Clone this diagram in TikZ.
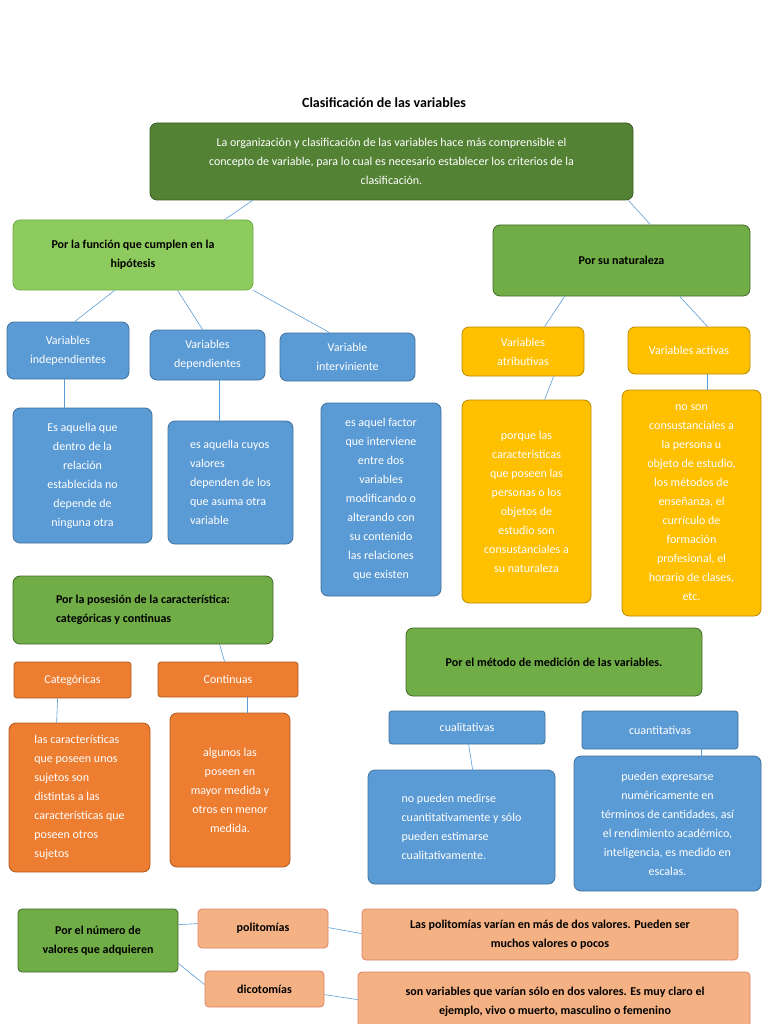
\documentclass[tikz,border=0pt]{standalone}
\usepackage{fontspec}
\setmainfont{Carlito}
\usetikzlibrary{fit}
\definecolor{dg}{HTML}{548235}
\definecolor{mg}{HTML}{70AD47}
\definecolor{lg}{HTML}{8DCB5E}
\definecolor{bl}{HTML}{5B9BD5}
\definecolor{bld}{HTML}{41719C}
\definecolor{ye}{HTML}{FFC000}
\definecolor{yed}{HTML}{BC8C00}
\definecolor{or}{HTML}{ED7D31}
\definecolor{ord}{HTML}{AE5A21}
\definecolor{sa}{HTML}{F4B183}
\definecolor{sad}{HTML}{E0826A}
\begin{document}
\begin{tikzpicture}[x=1pt,y=-1pt,
  every node/.style={font=\fontsize{12}{19}\selectfont},
  bf/.style={font=\fontsize{12}{19}\selectfont\bfseries},
  box/.style={draw,rounded corners=7pt,inner sep=0pt,line width=0.8pt},
  dgb/.style={box,fill=dg,draw=dg!70!black},
  mgb/.style={box,fill=mg,draw=dg!80!black},
  lgb/.style={box,fill=lg,draw=mg},
  blb/.style={box,fill=bl,draw=bld},
  yeb/.style={box,fill=ye,draw=yed},
  orb/.style={box,fill=or,draw=ord},
  sab/.style={box,fill=sa,draw=sad},
  wt/.style={text=white,align=center},
  ln/.style={draw=bl,line width=0.6pt}]
\useasboundingbox (0,0) rectangle (768,1024);
\node[font=\fontsize{14}{16}\selectfont\bfseries] (title) at (384,103) {Clasificación de las variables};
\node[dgb,fit={(150,123)(633,200)}] (top) {};
\node[wt] at (top.center) {La organización y clasificación de las variables hace más comprensible el\\concepto de variable, para lo cual es necesario establecer los criterios de la\\clasificación.};
\node[lgb,fit={(13,220)(253,290)}] (f1) {};
\node[bf,align=center] at (f1.center) {Por la función que cumplen en la\\hipótesis};
\node[mgb,fit={(493,225)(750,296)}] (nat) {};
\node[bf] at (nat.center) {Por su naturaleza};
\node[blb,fit={(7,322)(129,379)}] (vi) {};
\node[wt] at (vi.center) {Variables\\independientes};
\node[blb,fit={(150,330)(265,380)}] (vd) {};
\node[wt] at (vd.center) {Variables\\dependientes};
\node[blb,fit={(280,333)(415,381)}] (vint) {};
\node[wt] at (vint.center) {Variable\\interviniente};
\node[blb,fit={(13,408)(152,543)}] (d1) {};
\node[wt] at (d1.center) {Es aquella que\\dentro de la\\relación\\establecida no\\depende de\\ninguna otra};
\node[blb,fit={(168,421)(293,544)}] (d2) {};
\node[text=white,align=left] at (d2.center) {es aquella cuyos\\valores\\dependen de los\\que asuma otra\\variable};
\node[blb,fit={(321,403)(441,596)}] (d3) {};
\node[wt] at (d3.center) {es aquel factor\\que interviene\\entre dos\\variables\\modificando o\\alterando con\\su contenido\\las relaciones\\que existen};
\node[yeb,fit={(462,327)(584,376)}] (va) {};
\node[wt] at (va.center) {Variables\\atributivas};
\node[yeb,fit={(628,327)(750,374)}] (vac) {};
\node[wt] at (vac.center) {Variables activas};
\node[yeb,fit={(462,400)(591,603)}] (d4) {};
\node[wt] at (d4.center) {porque las\\caracteristicas\\que poseen las\\personas o los\\objetos de\\estudio son\\consustanciales a\\su naturaleza};
\node[yeb,fit={(622,390)(761,616)}] (d5) {};
\node[wt] at (d5.center) {no son\\consustanciales a\\la persona u\\objeto de estudio,\\los métodos de\\enseñanza, el\\currículo de\\formación\\profesional, el\\horario de clases,\\etc.};
\node[mgb,fit={(13,576)(273,644)}] (pos) {};
\node[bf,align=left] at (pos.center) {Por la posesión de la característica:\\categóricas y continuas};
\node[orb,rounded corners=3pt,fit={(14,662)(131,698)}] (cat) {};
\node[text=white] at (cat.center) {Categóricas};
\node[orb,rounded corners=3pt,fit={(158,662)(298,697)}] (con) {};
\node[text=white] at (con.center) {Continuas};
\node[orb,fit={(9,723)(150,872)}] (d6) {};
\node[text=white,align=left] at (d6.center) {las características\\que poseen unos\\sujetos son\\distintas a las\\características que\\poseen otros\\sujetos};
\node[orb,fit={(170,713)(290,867)}] (d7) {};
\node[wt] at (d7.center) {algunos las\\poseen en\\mayor medida y\\otros en menor\\medida.};
\node[mgb,fit={(406,628)(702,696)}] (met) {};
\node[bf] at (met.center) {Por el método de medición de las variables.};
\node[blb,rounded corners=3pt,fit={(389,711)(545,744)}] (cual) {};
\node[text=white] at (cual.center) {cualitativas};
\node[blb,rounded corners=3pt,fit={(582,711)(738,749)}] (cuan) {};
\node[text=white] at (cuan.center) {cuantitativas};
\node[blb,fit={(368,770)(555,884)}] (d8) {};
\node[text=white,align=left] at (d8.center) {no pueden medirse\\cuantitativamente y sólo\\pueden estimarse\\cualitativamente.};
\node[blb,fit={(574,756)(761,891)}] (d9) {};
\node[wt] at (d9.center) {pueden expresarse\\numéricamente en\\términos de cantidades, así\\el rendimiento académico,\\inteligencia, es medido en\\escalas.};
\node[mgb,rounded corners=4pt,fit={(18,909)(178,972)}] (num) {};
\node[bf,align=center] at (num.center) {Por el número de\\valores que adquieren};
\node[sab,rounded corners=4pt,fit={(198,909)(328,948)}] (pol) {};
\node[bf] at (pol.center) {politomías};
\node[sab,rounded corners=4pt,fit={(205,971)(324,1007)}] (dic) {};
\node[bf] at (dic.center) {dicotomías};
\node[sab,rounded corners=4pt,fit={(362,909)(738,960)}] (d10) {};
\node[bf,align=center] at (d10.center) {Las politomías varían en más de dos valores. Pueden ser\\muchos valores o pocos};
\node[sab,rounded corners=4pt,fit={(358,972)(750,1030)}] (d11) {};
\node[bf,align=center] at (555,1002) {son variables que varían sólo en dos valores. Es muy claro el\\ejemplo, vivo o muerto, masculino o femenino};
% connectors
\draw[ln] ([xshift=103pt]top.south west) -- ([xshift=212pt]f1.north west);
\draw[ln] ([xshift=-5pt]top.south east) -- ([xshift=-100pt]nat.north east);
\draw[ln] ([xshift=102pt]f1.south west) -- ([xshift=68pt]vi.north west);
\draw[ln] ([xshift=165pt]f1.south west) -- ([xshift=53pt]vd.north west);
\draw[ln] (f1.south east) -- ([xshift=50pt]vint.north west);
\draw[ln] ([xshift=58pt]vi.south west) -- ([xshift=52pt]d1.north west);
\draw[ln] ([xshift=70pt]vd.south west) -- ([xshift=52pt]d2.north west);
\draw[ln] ([xshift=72pt]nat.south west) -- ([xshift=83pt]va.north west);
\draw[ln] ([xshift=187pt]nat.south west) -- ([xshift=80pt]vac.north west);
\draw[ln] ([xshift=92pt]va.south west) -- ([xshift=83pt]d4.north west);
\draw[ln] ([xshift=80pt]vac.south west) -- ([xshift=86pt]d5.north west);
\draw[ln] ([xshift=44pt]cat.south west) -- ([xshift=48pt]d6.north west);
\draw[ln] ([xshift=207pt]pos.south west) -- ([xshift=67pt]con.north west);
\draw[ln] ([xshift=90pt]con.south west) -- ([xshift=78pt]d7.north west);
\draw[ln] ([xshift=80pt]cual.south west) -- ([xshift=105pt]d8.north west);
\draw[ln] ([xshift=120pt]cuan.south west) -- ([xshift=128pt]d9.north west);
\draw[ln] ([yshift=-16pt]num.north east) -- ([yshift=-15pt]pol.north west);
\draw[ln] ([yshift=9pt]num.south east) -- ([yshift=-14pt]dic.north west);
\draw[ln] ([yshift=-19pt]pol.north east) -- ([yshift=-25pt]d10.north west);
\draw[ln] ([yshift=-24pt]dic.north east) -- ([yshift=-28pt]d11.north west);
\end{tikzpicture}
\end{document}
